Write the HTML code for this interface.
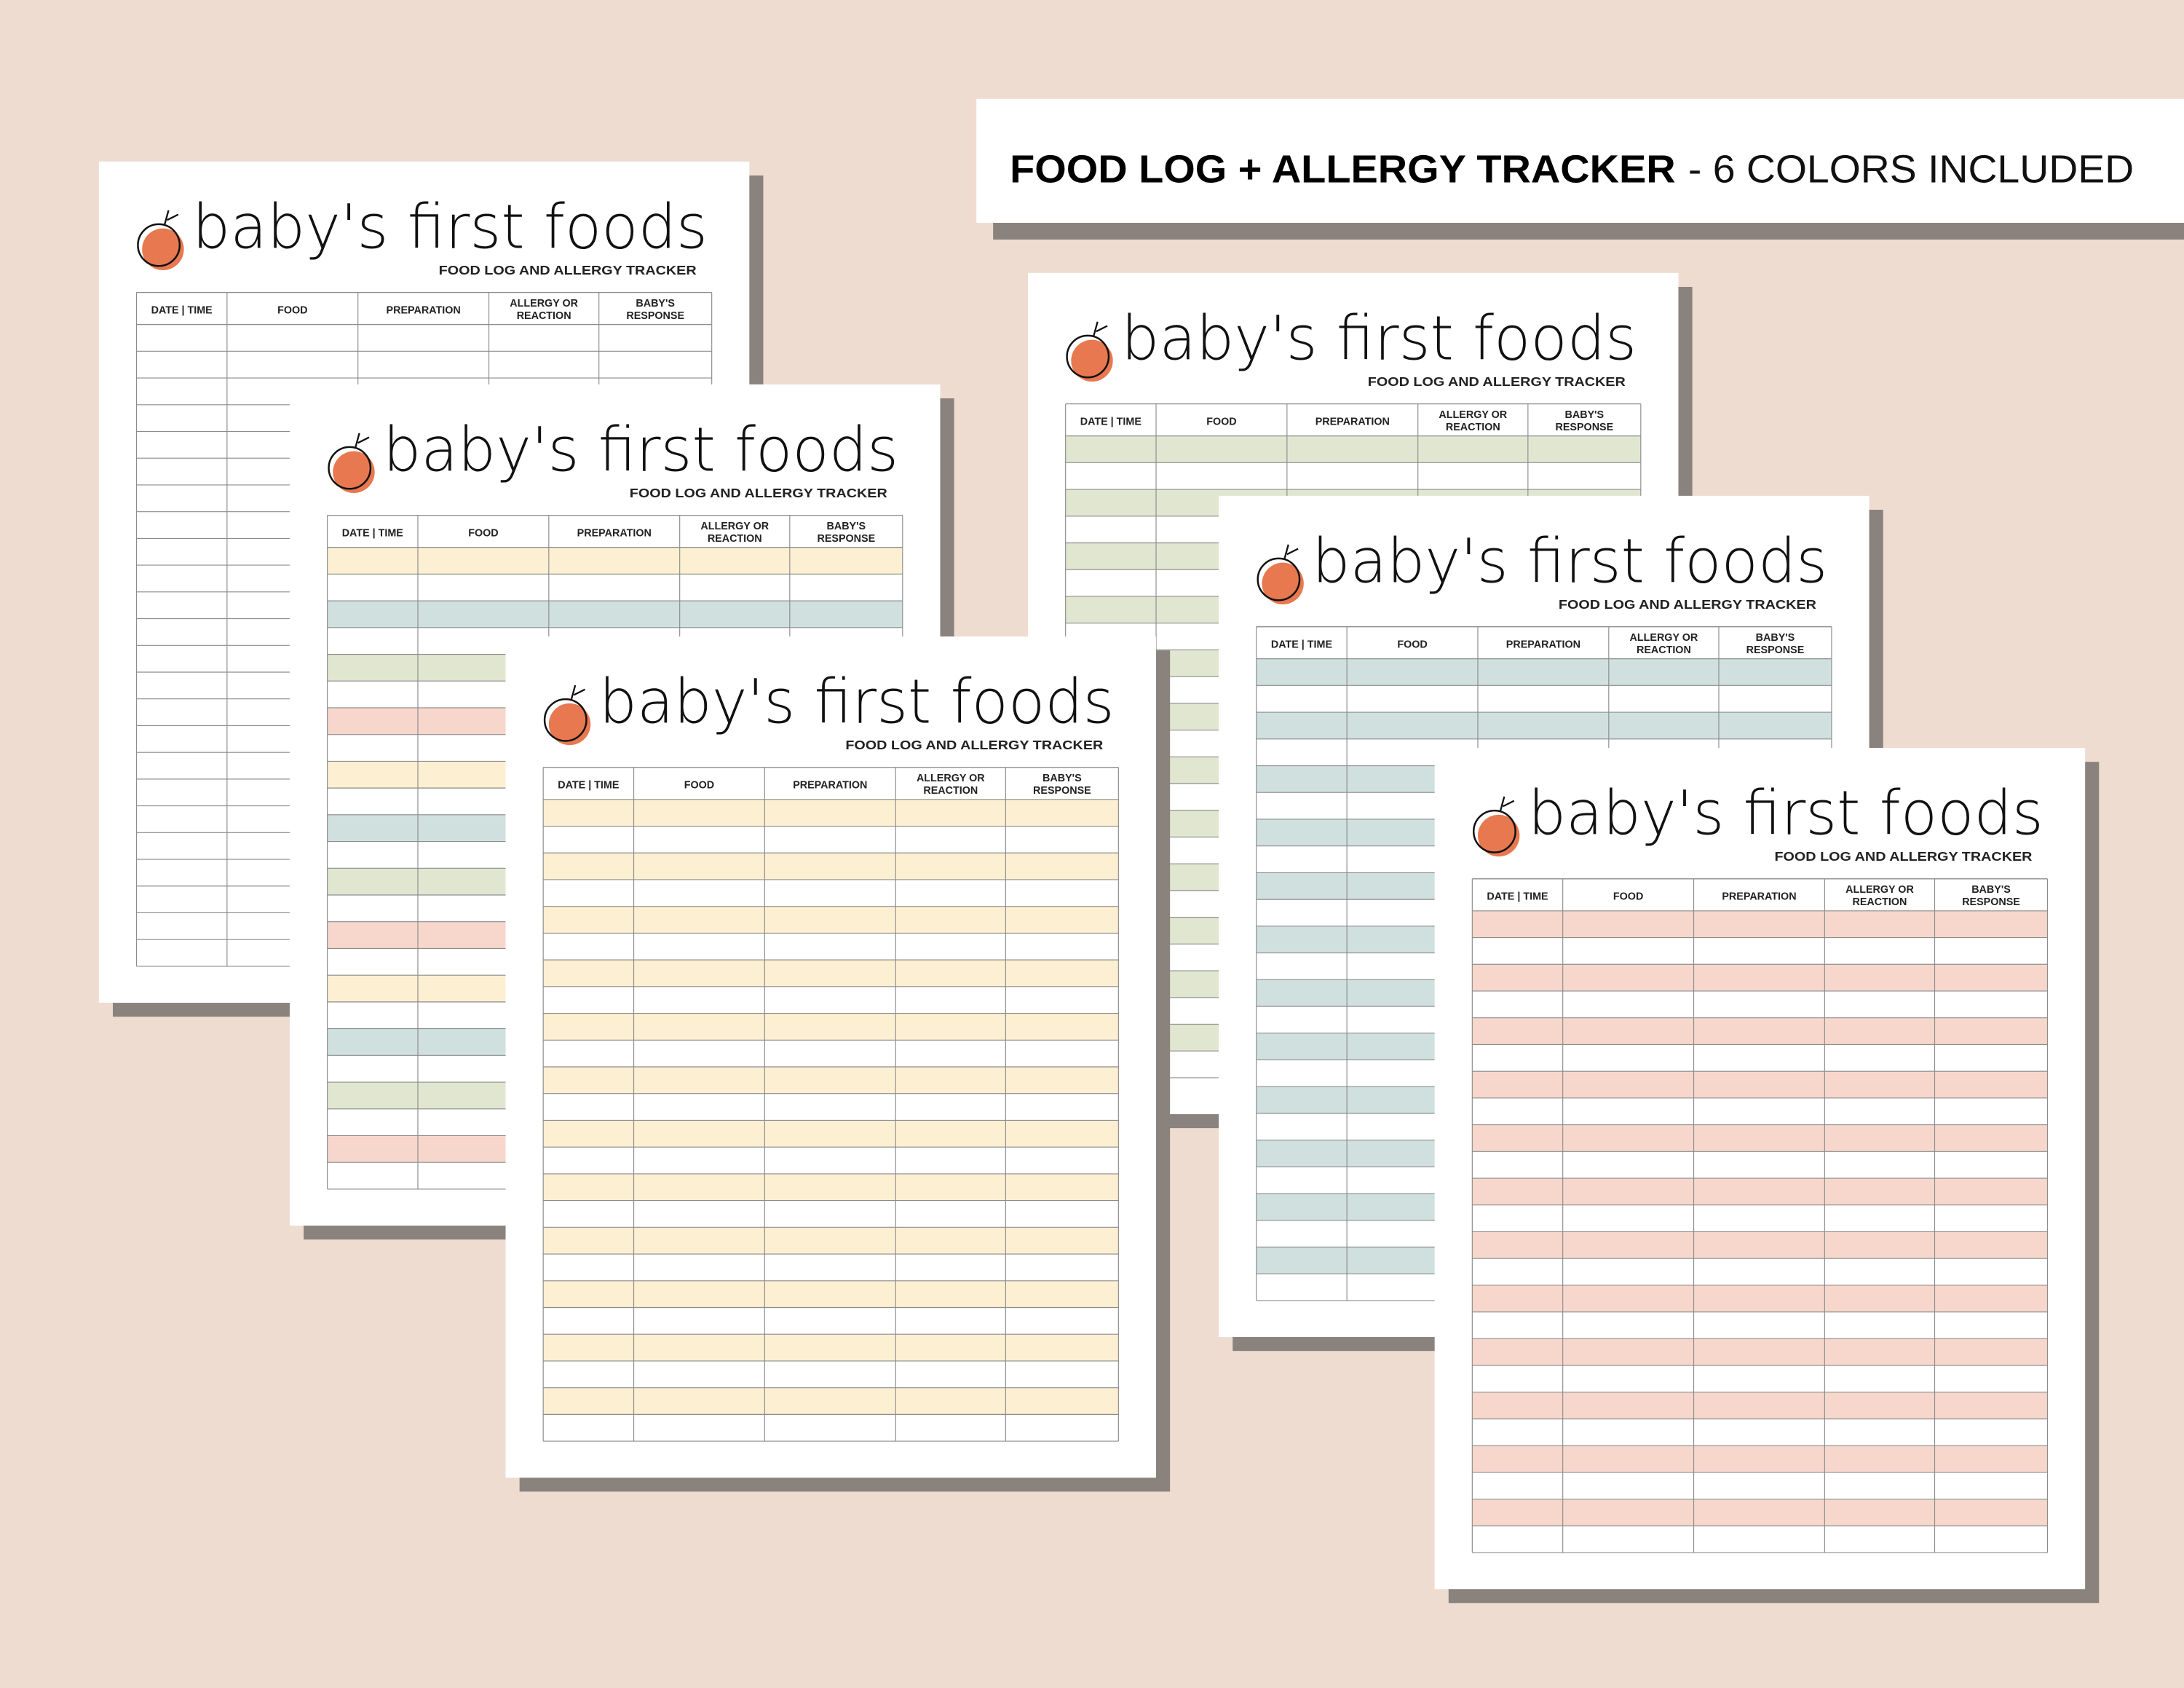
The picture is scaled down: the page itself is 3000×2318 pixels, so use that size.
<!DOCTYPE html>
<html><head><meta charset="utf-8"><style>
html,body{margin:0;padding:0;background:#efdcd1;}
svg{display:block;}
</style></head><body>
<svg id="root" width="3000" height="2318" viewBox="0 0 1568 1212" preserveAspectRatio="none" xmlns="http://www.w3.org/2000/svg">
<rect x="0" y="0" width="1568" height="1212" fill="#efdcd1"/>
<g>
<rect x="713" y="150" width="855" height="22" fill="#8a827d"/>
<rect x="701" y="71" width="867" height="89" fill="#ffffff"/>
<text x="725" y="131" font-family="Liberation Sans, sans-serif" font-weight="bold" font-size="28" textLength="478" lengthAdjust="spacingAndGlyphs" fill="#000">FOOD LOG + ALLERGY TRACKER</text>
<text x="1212" y="131" font-family="Liberation Sans, sans-serif" font-size="28" textLength="320" lengthAdjust="spacingAndGlyphs" fill="#111">- 6 COLORS INCLUDED</text>
</g>
<g id="pages"></g>
</svg>
<script>
const pageX = [71, 208, 738, 875, 363, 1030];
const pageY = [116, 276, 196, 356, 457, 537];
const pageNames = ['page-plain','page-multicolor','page-green','page-blue','page-yellow','page-pink'];
const pageStripes = [
  ['none'],
  ['#fdf0d2','#cfe0df','#e1e6d0','#f7d7cc'],
  ['#e1e6d0'],
  ['#cfe0df'],
  ['#fdf0d2'],
  ['#f7d7cc']
];
const columnHeaders = [['DATE | TIME'],['FOOD'],['PREPARATION'],['ALLERGY OR','REACTION'],["BABY'S",'RESPONSE']];
const columnEdges = [27, 92, 186, 280, 359, 440];
const rowCount = 24;

const NS = 'http://www.w3.org/2000/svg';
const host = document.getElementById('pages');
function mk(tag, attrs, parent){
  const e = document.createElementNS(NS, tag);
  for (const k in attrs) e.setAttribute(k, attrs[k]);
  parent.appendChild(e);
  return e;
}
const W = 467, H = 604, tx0 = 117, hh = 23, rh = 19.2;
for (let p = 0; p < pageX.length; p++){
  const g = mk('g', {transform:'translate('+pageX[p]+','+pageY[p]+')'}, host);
  
  
  const sh = mk('rect', {x:10, y:10, width:W, height:H, fill:'#8a827d'}, g);
  
  
  const pg = mk('rect', {x:0, y:0, width:W, height:H, fill:'#ffffff'}, g);
  
  
  // orange icon
  const ic = mk('g', {}, g);
  
  
  mk('circle', {cx:46, cy:63, r:15, fill:'#e8784f'}, ic);
  mk('circle', {cx:43, cy:60, r:15, fill:'none', stroke:'#111', 'stroke-width':1.3}, ic);
  mk('path', {d:'M47 46 L50 35 M49 42 L57 38', stroke:'#111', 'stroke-width':1.2, fill:'none'}, ic);
  const t = mk('text', {x:67, y:62, 'font-family':'DejaVu Sans, Liberation Sans, sans-serif', 'font-weight':'200', 'font-size':'44', textLength:370, lengthAdjust:'spacingAndGlyphs', fill:'#111'}, g);
  t.textContent = "baby's first foods";
  
  
  const st = mk('text', {x:429, y:81, 'text-anchor':'end', 'font-family':'Liberation Sans, sans-serif', 'font-weight':'bold', 'font-size':'9', textLength:185, lengthAdjust:'spacingAndGlyphs', fill:'#222'}, g);
  st.textContent = 'FOOD LOG AND ALLERGY TRACKER';
  
  
  // table
  const tb = mk('g', {}, g);
  
  
  const x0 = columnEdges[0], x1 = columnEdges[columnEdges.length-1];
  const top = 94;
  for (let r = 0; r < rowCount; r++){
    const c = pageStripes[p][Math.floor(r/2) % pageStripes[p].length];
    if (r % 2 === 0 && c !== 'none'){
      const rr = mk('rect', {x:x0, y:tx0 + r*rh, width:x1-x0, height:rh, fill:c}, tb);
      
      
    }
  }
  for (let r = 0; r <= rowCount; r++){
    const ln = mk('line', {x1:x0, x2:x1, y1:tx0 + r*rh, y2:tx0 + r*rh, stroke:'#8c8c8c', 'stroke-width':0.6}, tb);
    
    
  }
  mk('line', {x1:x0, x2:x1, y1:top, y2:top, stroke:'#8c8c8c', 'stroke-width':0.7}, tb);
  for (let c = 0; c < columnEdges.length; c++){
    const vl = mk('line', {x1:columnEdges[c], x2:columnEdges[c], y1:top, y2:tx0 + rowCount*rh, stroke:'#8c8c8c', 'stroke-width':0.6}, tb);
    
    
  }
  for (let c = 0; c < columnHeaders.length; c++){
    const cx = (columnEdges[c] + columnEdges[c+1]) / 2;
    const lines = columnHeaders[c];
    lines.forEach((s, i) => {
      const y = lines.length === 1 ? 109 : 104 + i*9;
      const ht = mk('text', {x:cx, y:y, 'text-anchor':'middle', 'font-family':'Liberation Sans, sans-serif', 'font-weight':'bold', 'font-size':'7.5', fill:'#222'}, tb);
      ht.textContent = s;
      
      
    });
  }
}
</script>
</body></html>
